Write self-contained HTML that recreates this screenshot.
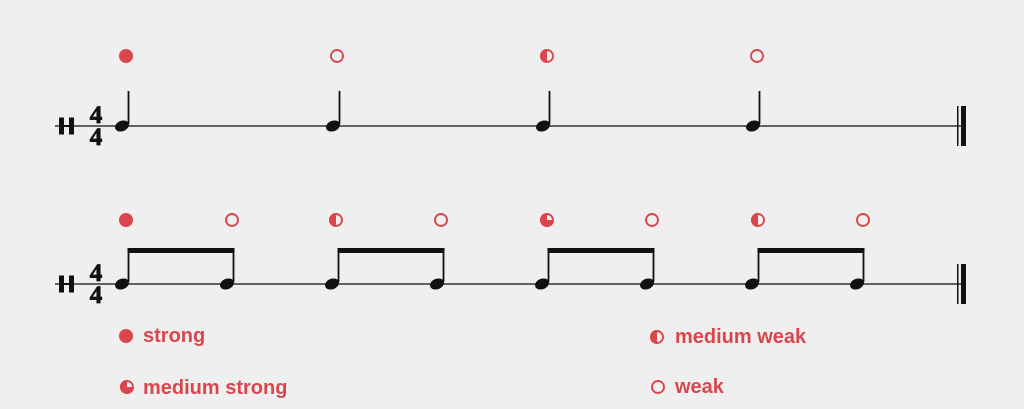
<!DOCTYPE html>
<html><head><style>
html,body{margin:0;padding:0;background:#efefef;}
svg{display:block}
</style></head><body>
<svg width="1024" height="409" viewBox="0 0 1024 409" xmlns="http://www.w3.org/2000/svg">
<defs>
<g id="full"><circle r="7" fill="#d9474c"/></g>
<g id="empty"><circle r="6" fill="none" stroke="#d9474c" stroke-width="1.9"/></g>
<g id="half"><circle r="6" fill="none" stroke="#d9474c" stroke-width="1.9"/><path d="M0,-7 A7,7 0 0 0 0,7 Z" fill="#d9474c"/></g>
<g id="three"><circle r="6" fill="none" stroke="#d9474c" stroke-width="1.9"/><path d="M0,0 L0,-7 A7,7 0 1 0 7,0 Z" fill="#d9474c"/></g>
<g id="head"><ellipse rx="7.2" ry="5.2" transform="rotate(-22)" fill="#111"/></g>
<g id="clef"><rect x="-8" y="-8.5" width="5" height="17" fill="#111"/><rect x="2" y="-8.5" width="5" height="17" fill="#111"/><rect x="-8" y="-1" width="15" height="2" fill="#111"/></g>
</defs>
<g stroke="#333" stroke-width="1.4">
<line x1="55" y1="126" x2="962" y2="126"/>
<line x1="55" y1="284" x2="962" y2="284"/>
</g>
<rect x="957" y="106" width="1.5" height="40" fill="#111"/>
<rect x="961" y="106" width="5" height="40" fill="#111"/>
<rect x="957" y="264" width="1.5" height="40" fill="#111"/>
<rect x="961" y="264" width="5" height="40" fill="#111"/>
<use href="#clef" x="67" y="126"/>
<use href="#clef" x="67" y="284"/>
<g font-family="Liberation Serif, serif" font-weight="bold" font-size="25" fill="#111" text-anchor="middle" stroke="#111" stroke-width="0.8">
<text x="96" y="123">4</text><text x="96" y="145">4</text>
<text x="96" y="281">4</text><text x="96" y="303">4</text>
</g>
<g stroke="#111" stroke-width="1.8">
<line x1="128.5" y1="91" x2="128.5" y2="124"/>
<line x1="339.5" y1="91" x2="339.5" y2="124"/>
<line x1="549.5" y1="91" x2="549.5" y2="124"/>
<line x1="759.5" y1="91" x2="759.5" y2="124"/>
</g>
<use href="#head" x="122" y="126"/><use href="#head" x="333" y="126"/><use href="#head" x="543" y="126"/><use href="#head" x="753" y="126"/>
<use href="#full" x="126" y="56"/><use href="#empty" x="337" y="56"/><use href="#half" x="547" y="56"/><use href="#empty" x="757" y="56"/>
<g stroke="#111" stroke-width="1.8">
<line x1="128.5" y1="250" x2="128.5" y2="282"/><line x1="233.5" y1="250" x2="233.5" y2="282"/>
<line x1="338.5" y1="250" x2="338.5" y2="282"/><line x1="443.5" y1="250" x2="443.5" y2="282"/>
<line x1="548.5" y1="250" x2="548.5" y2="282"/><line x1="653.5" y1="250" x2="653.5" y2="282"/>
<line x1="758.5" y1="250" x2="758.5" y2="282"/><line x1="863.5" y1="250" x2="863.5" y2="282"/>
</g>
<g fill="#111">
<rect x="127.5" y="248" width="107" height="5"/>
<rect x="337.5" y="248" width="107" height="5"/>
<rect x="547.5" y="248" width="107" height="5"/>
<rect x="757.5" y="248" width="107" height="5"/>
</g>
<use href="#head" x="122" y="284"/><use href="#head" x="227" y="284"/><use href="#head" x="332" y="284"/><use href="#head" x="437" y="284"/>
<use href="#head" x="542" y="284"/><use href="#head" x="647" y="284"/><use href="#head" x="752" y="284"/><use href="#head" x="857" y="284"/>
<use href="#full" x="126" y="220"/><use href="#empty" x="232" y="220"/><use href="#half" x="336" y="220"/><use href="#empty" x="441" y="220"/>
<use href="#three" x="547" y="220"/><use href="#empty" x="652" y="220"/><use href="#half" x="758" y="220"/><use href="#empty" x="863" y="220"/>
<use href="#full" x="126" y="336"/><use href="#three" x="127" y="387"/>
<use href="#half" x="657" y="337"/><use href="#empty" x="658" y="387"/>
<g font-family="Liberation Sans, sans-serif" font-weight="bold" font-size="20" fill="#d9474c">
<text x="143" y="342">strong</text>
<text x="143" y="394">medium strong</text>
<text x="675" y="343">medium weak</text>
<text x="675" y="393">weak</text>
</g>
</svg>
</body></html>
